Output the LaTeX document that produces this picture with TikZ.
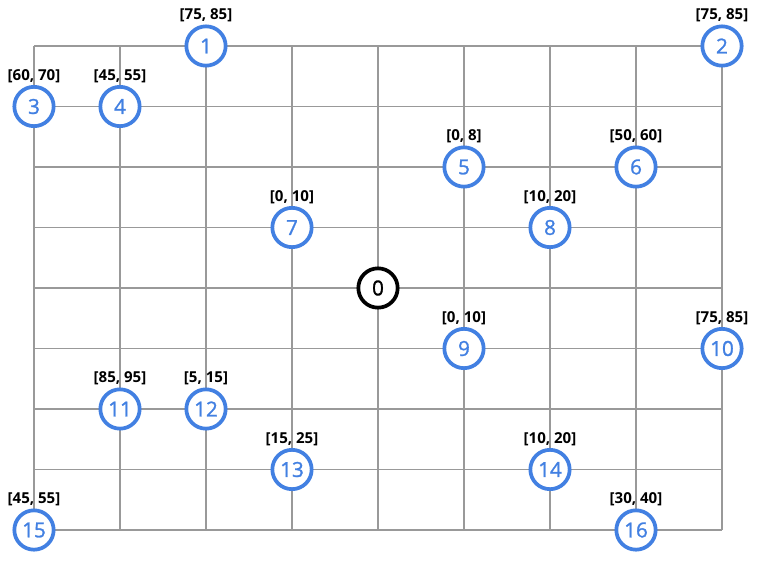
\documentclass[tikz,border=0pt]{standalone}
\usepackage{fontspec}
\setmainfont{Open Sans}
\newfontfamily\numfont[FakeBold=1.2]{Open Sans}
\begin{document}
\begin{tikzpicture}[x=0.75pt,y=-0.75pt,
  gridline/.style={draw=gray!80,line width=1.1pt},
  bnode/.style={circle,draw=nodeblue,line width=2.8pt,inner sep=0pt,fill=white,text=nodeblue,font=\numfont\fontsize{15.5}{16}\selectfont},
  knode/.style={circle,draw=black,line width=2.8pt,inner sep=0pt,fill=white,text=black,font=\numfont\fontsize{15.5}{16}\selectfont},
  rng/.style={font=\bfseries\fontsize{11.3}{12}\selectfont,text=black}]
\definecolor{nodeblue}{RGB}{66,128,226}
\useasboundingbox (0,0) rectangle (760,561);
% grid
\foreach \gx in {34,120,206,292,378,464,550,636,722}
  \draw[gridline] (\gx,46) -- (\gx,530);
\foreach \gy in {46,106.5,167,227.5,288,348.5,409,469.5,530}
  \draw[gridline] (34,\gy) -- (722,\gy);
% nodes
\tikzset{bn/.style={bnode,minimum size=29.5pt}}
\node[knode,minimum size=29.5pt] (n0) at (378,288) {0};
\foreach \name/\px/\py/\lab in {
  1/206/46/{[75, 85]},
  2/722/46/{[75, 85]},
  3/34/106.5/{[60, 70]},
  4/120/106.5/{[45, 55]},
  5/464/167/{[0, 8]},
  6/636/167/{[50, 60]},
  7/292/227.5/{[0, 10]},
  8/550/227.5/{[10, 20]},
  9/464/348.5/{[0, 10]},
  10/722/348.5/{[75, 85]},
  11/120/409/{[85, 95]},
  12/206/409/{[5, 15]},
  13/292/469.5/{[15, 25]},
  14/550/469.5/{[10, 20]},
  15/34/530/{[45, 55]},
  16/636/530/{[30, 40]}}
{
  \node[bn] (n\name) at (\px,\py) {\name};
  \node[rng] (l\name) at ([yshift=23pt]n\name.center) {\lab};
}
\end{tikzpicture}
\end{document}
